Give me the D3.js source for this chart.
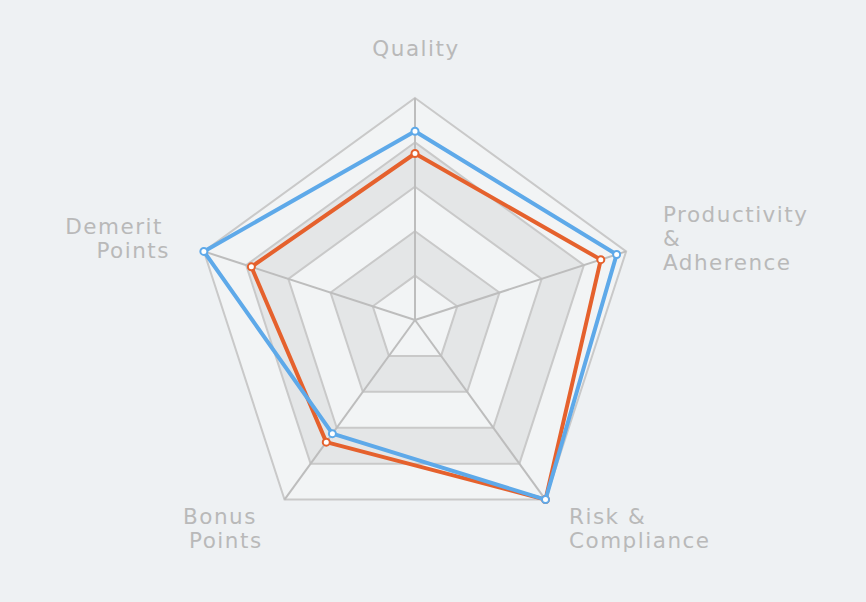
<!DOCTYPE html>
<html>
<head>
<meta charset="utf-8">
<script src="https://cdn.jsdelivr.net/npm/d3@7"></script>
<style>
  html, body { margin: 0; padding: 0; background: #eef1f3; }
  svg { display: block; }
  .axis-label { font-family: "DejaVu Sans", sans-serif; font-size: 21.5px; letter-spacing: 1.5px; fill: #b9b9b9; }
</style>
</head>
<body>
<svg id="radar" width="866" height="602"></svg>
<script>
// axes, clockwise from the top
const axes = ["Quality", "Productivity & Adherence", "Risk & Compliance", "Bonus Points", "Demerit Points"];
// label lines for each axis
const axisLabels = [
  ["Quality"],
  ["Productivity", "&", "Adherence"],
  ["Risk &", "Compliance"],
  ["Bonus", "Points"],
  ["Demerit", "Points"]
];
const blueValues = [0.85, 0.955, 1.0, 0.633, 1.0];
const orangeValues = [0.75, 0.88, 1.0, 0.68, 0.775];
const levels = [0.2, 0.4, 0.6, 0.8, 1.0];

const cx = 415, cy = 320, R = 222;
const svg = d3.select("#radar");

let rScale = d3.scaleLinear().domain([0, 1]).range([0, R]);
let angleScale = d3.scaleLinear().domain([0, axes.length]).range([0, 2 * Math.PI]);

function point(i, v) {
  let a = angleScale(i) - Math.PI / 2;
  return [cx + rScale(v) * Math.cos(a), cy + rScale(v) * Math.sin(a)];
}

let radarLine = d3.line()
  .x(d => d[0])
  .y(d => d[1])
  .curve(d3.curveLinearClosed);

// grid: outer to inner, alternating fills
let grid = svg.append("g").attr("class", "grid");
levels.slice().reverse().forEach((lv, k) => {
  grid.append("path")
    .attr("d", radarLine(axes.map((a, i) => point(i, lv))))
    .attr("fill", k % 2 == 0 ? "#f2f4f5" : "#e4e6e7")
    .attr("stroke", "#c9c9c9")
    .attr("stroke-width", 2);
});

// spokes
grid.selectAll("line.spoke")
  .data(axes)
  .enter()
  .append("line")
    .attr("class", "spoke")
    .attr("x1", cx).attr("y1", cy)
    .attr("x2", (d, i) => point(i, 1)[0])
    .attr("y2", (d, i) => point(i, 1)[1])
    .attr("stroke", "#bdbdbd")
    .attr("stroke-width", 2);

// series, orange below blue
const series = [
  { values: orangeValues, color: "#e5612d" },
  { values: blueValues, color: "#5ea9e9" }
];

series.forEach(s => {
  let pts = s.values.map((v, i) => point(i, v));
  let g = svg.append("g");
  g.append("path")
    .attr("d", radarLine(pts))
    .attr("fill", "none")
    .attr("stroke", s.color)
    .attr("stroke-width", 4)
    .attr("stroke-linejoin", "round");
  g.selectAll("circle")
    .data(pts)
    .enter()
    .append("circle")
      .attr("cx", d => d[0])
      .attr("cy", d => d[1])
      .attr("r", 3.5)
      .attr("fill", "white")
      .attr("stroke", s.color)
      .attr("stroke-width", 2);
});

// labels: x per line, first baseline, line step
const labelPos = [
  { xs: [416], y: 56, anchor: "middle" },
  { xs: [663, 663, 663], y: 222, anchor: "start" },
  { xs: [569, 569], y: 524, anchor: "start" },
  { xs: [183, 189], y: 524, anchor: "start" },
  { xs: [163, 170], y: 234, anchor: "end" }
];
let labels = svg.append("g");
axisLabels.forEach((lines, i) => {
  lines.forEach((ln, j) => {
    labels.append("text")
      .attr("class", "axis-label")
      .attr("text-anchor", labelPos[i].anchor)
      .attr("x", labelPos[i].xs[j])
      .attr("y", labelPos[i].y + j * 24)
      .text(ln);
  });
});
</script>
</body>
</html>
